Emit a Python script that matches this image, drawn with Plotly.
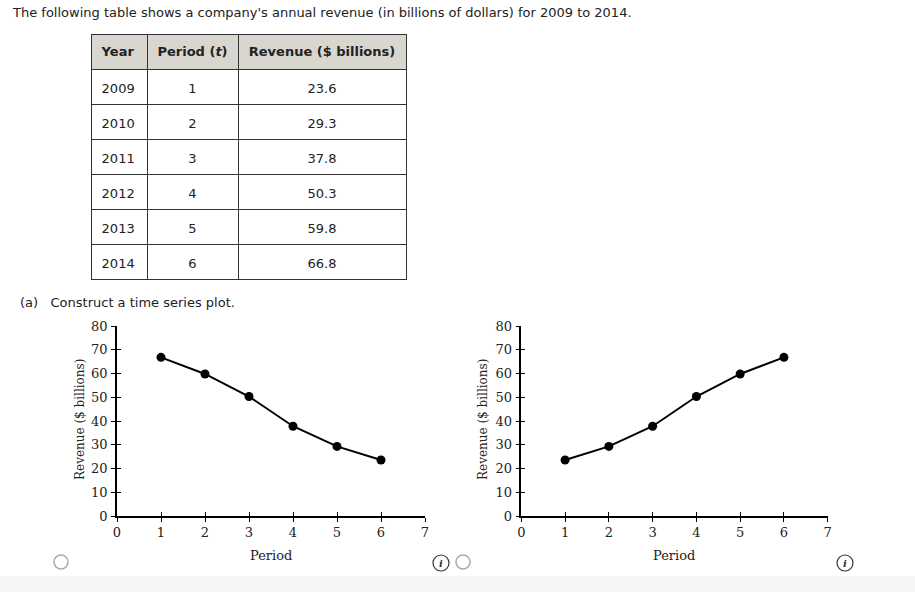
import plotly.graph_objects as go

years = [2009, 2010, 2011, 2012, 2013, 2014]
periods = [1, 2, 3, 4, 5, 6]
revenue = [23.6, 29.3, 37.8, 50.3, 59.8, 66.8]
x_ticks = [0, 1, 2, 3, 4, 5, 6, 7]
y_ticks = [0, 10, 20, 30, 40, 50, 60, 70, 80]
headers = ["Year", "Period (<i>t</i>)", "Revenue ($ billions)"]

W, H = 915, 592
def px(x):
    return x / W
def py(y):
    return 1 - y / H

SANS = "DejaVu Sans"
SERIF = "DejaVu Serif"
TXT = "#222222"

col_w = [56, 91, 168]
tbl_x = [px(91), px(406.5)]

fig = go.Figure()

# table grid (fills and borders)
fig.add_trace(go.Table(
    domain=dict(x=tbl_x, y=[py(280), py(34)]),
    columnwidth=col_w,
    header=dict(values=["", "", ""], height=35, fill_color="#d9d5cf",
                line=dict(color="#333333", width=1)),
    cells=dict(values=[[""] * len(years)] * 3, height=35, fill_color="white",
               line=dict(color="#333333", width=1)),
))
# table text (offset slightly downward to sit centred in each row)
fig.add_trace(go.Table(
    domain=dict(x=tbl_x, y=[py(290), py(36)]),
    columnwidth=col_w,
    header=dict(values=["<b>\u2009" + headers[0] + "</b>"] + [f"<b>{h}</b>" for h in headers[1:]],
                height=39, fill_color="rgba(0,0,0,0)",
                line=dict(color="rgba(0,0,0,0)", width=0),
                align=["left", "center", "center"],
                font=dict(family=SANS, size=13, color=TXT)),
    cells=dict(values=[["\u2009" + str(y) for y in years], [str(p) for p in periods],
                       [f"{r:.1f}" for r in revenue]],
               height=35, fill_color="rgba(0,0,0,0)",
               line=dict(color="rgba(0,0,0,0)", width=0),
               align=["left", "center", "center"],
               font=dict(family=SANS, size=13, color=TXT)),
))

line_style = dict(color="black", width=2)
marker_style = dict(color="black", size=9)
fig.add_trace(go.Scatter(x=periods, y=revenue[::-1], mode="lines+markers",
                         line=line_style, marker=marker_style,
                         xaxis="x", yaxis="y", showlegend=False, hoverinfo="skip"))
fig.add_trace(go.Scatter(x=periods, y=revenue, mode="lines+markers",
                         line=line_style, marker=marker_style,
                         xaxis="x2", yaxis="y2", showlegend=False, hoverinfo="skip"))

tickfont = dict(family=SERIF, size=13, color="#222222")

def xa(dom, anchor, overlay=None, inside=False):
    d = dict(domain=dom, range=[0, 7], tickvals=x_ticks, anchor=anchor,
             showgrid=False, zeroline=False, showline=not inside,
             linecolor="black", linewidth=1.5, ticks="inside" if inside else "outside",
             ticklen=4, tickwidth=1, tickcolor="black", tickfont=tickfont,
             showticklabels=not inside, fixedrange=True, automargin=False)
    if overlay:
        d["overlaying"] = overlay
    return d

def ya(dom, anchor, overlay=None, inside=False):
    d = dict(domain=dom, range=[0, 80], tickvals=y_ticks, anchor=anchor,
             showgrid=False, zeroline=False, showline=not inside,
             linecolor="black", linewidth=1.5, ticks="inside" if inside else "outside",
             ticklen=4, tickwidth=1, tickcolor="black", tickfont=tickfont,
             showticklabels=not inside, ticklabelstandoff=1, fixedrange=True,
             automargin=False)
    if overlay:
        d["overlaying"] = overlay
    return d

ydom = [py(516), py(326)]
x1dom = [px(117), px(425)]
x2dom = [px(521.3), px(827.7)]

fig.update_layout(
    width=W, height=H, margin=dict(l=0, r=0, t=0, b=0, pad=0), autosize=False,
    paper_bgcolor="white", plot_bgcolor="rgba(0,0,0,0)",
    xaxis=xa(x1dom, "y"), yaxis=ya(ydom, "x"),
    xaxis2=xa(x2dom, "y2"), yaxis2=ya(ydom, "x2"),
    xaxis3=xa(x1dom, "y", overlay="x", inside=True),
    yaxis3=ya(ydom, "x", overlay="y", inside=True),
    xaxis4=xa(x2dom, "y2", overlay="x2", inside=True),
    yaxis4=ya(ydom, "x2", overlay="y2", inside=True),
)

# dummy invisible traces to activate overlay axes
for xr, yr in [("x3", "y3"), ("x4", "y4")]:
    fig.add_trace(go.Scatter(x=[None], y=[None], xaxis=xr, yaxis=yr,
                             showlegend=False, hoverinfo="skip"))

ann = []
ann.append(dict(x=px(10), y=py(13), text="The following table shows a company's annual revenue (in billions of dollars) for 2009 to 2014.",
                xanchor="left", yanchor="middle", showarrow=False,
                font=dict(family=SANS, size=13, color=TXT)))
ann.append(dict(x=px(18), y=py(302), text="(a)&nbsp;&nbsp; Construct a time series plot.",
                xanchor="left", yanchor="middle", showarrow=False,
                font=dict(family=SANS, size=13, color=TXT)))
for cx in [271, 674]:
    ann.append(dict(x=px(cx), y=py(555), text="Period", xanchor="center", yanchor="middle",
                    showarrow=False, font=dict(family=SERIF, size=13, color="#222222")))
for cx in [80, 483]:
    ann.append(dict(x=px(cx), y=py(420), text="Revenue ($ billions)", textangle=-90,
                    xanchor="center", yanchor="middle", showarrow=False,
                    font=dict(family=SERIF, size=12, color="#222222")))
for cx in [441, 845]:
    ann.append(dict(x=px(cx), y=py(563), text="<i><b>i</b></i>", xanchor="center", yanchor="middle",
                    showarrow=False, font=dict(family=SERIF, size=10, color="#333333")))
fig.update_layout(annotations=[dict(a, xref="paper", yref="paper") for a in ann])

shapes = []
shapes.append(dict(type="rect", xref="paper", yref="paper", x0=0, x1=1, y0=0, y1=py(576),
                   fillcolor="#f6f6f6", line=dict(width=0), layer="below"))
for cx in [61, 463]:
    shapes.append(dict(type="circle", xref="paper", yref="paper",
                       x0=px(cx - 7), x1=px(cx + 7), y0=py(562 + 7), y1=py(562 - 7),
                       line=dict(color="#aaaaaa", width=1.5), fillcolor="white"))
for cx in [441, 845]:
    shapes.append(dict(type="circle", xref="paper", yref="paper",
                       x0=px(cx - 8), x1=px(cx + 8), y0=py(563 + 8), y1=py(563 - 8),
                       line=dict(color="#333333", width=1.2), fillcolor="rgba(0,0,0,0)"))
fig.update_layout(shapes=shapes)

fig.write_html("out.html", config=dict(displayModeBar=False),
               post_script="document.body.style.margin='0';document.body.style.overflow='hidden';")
